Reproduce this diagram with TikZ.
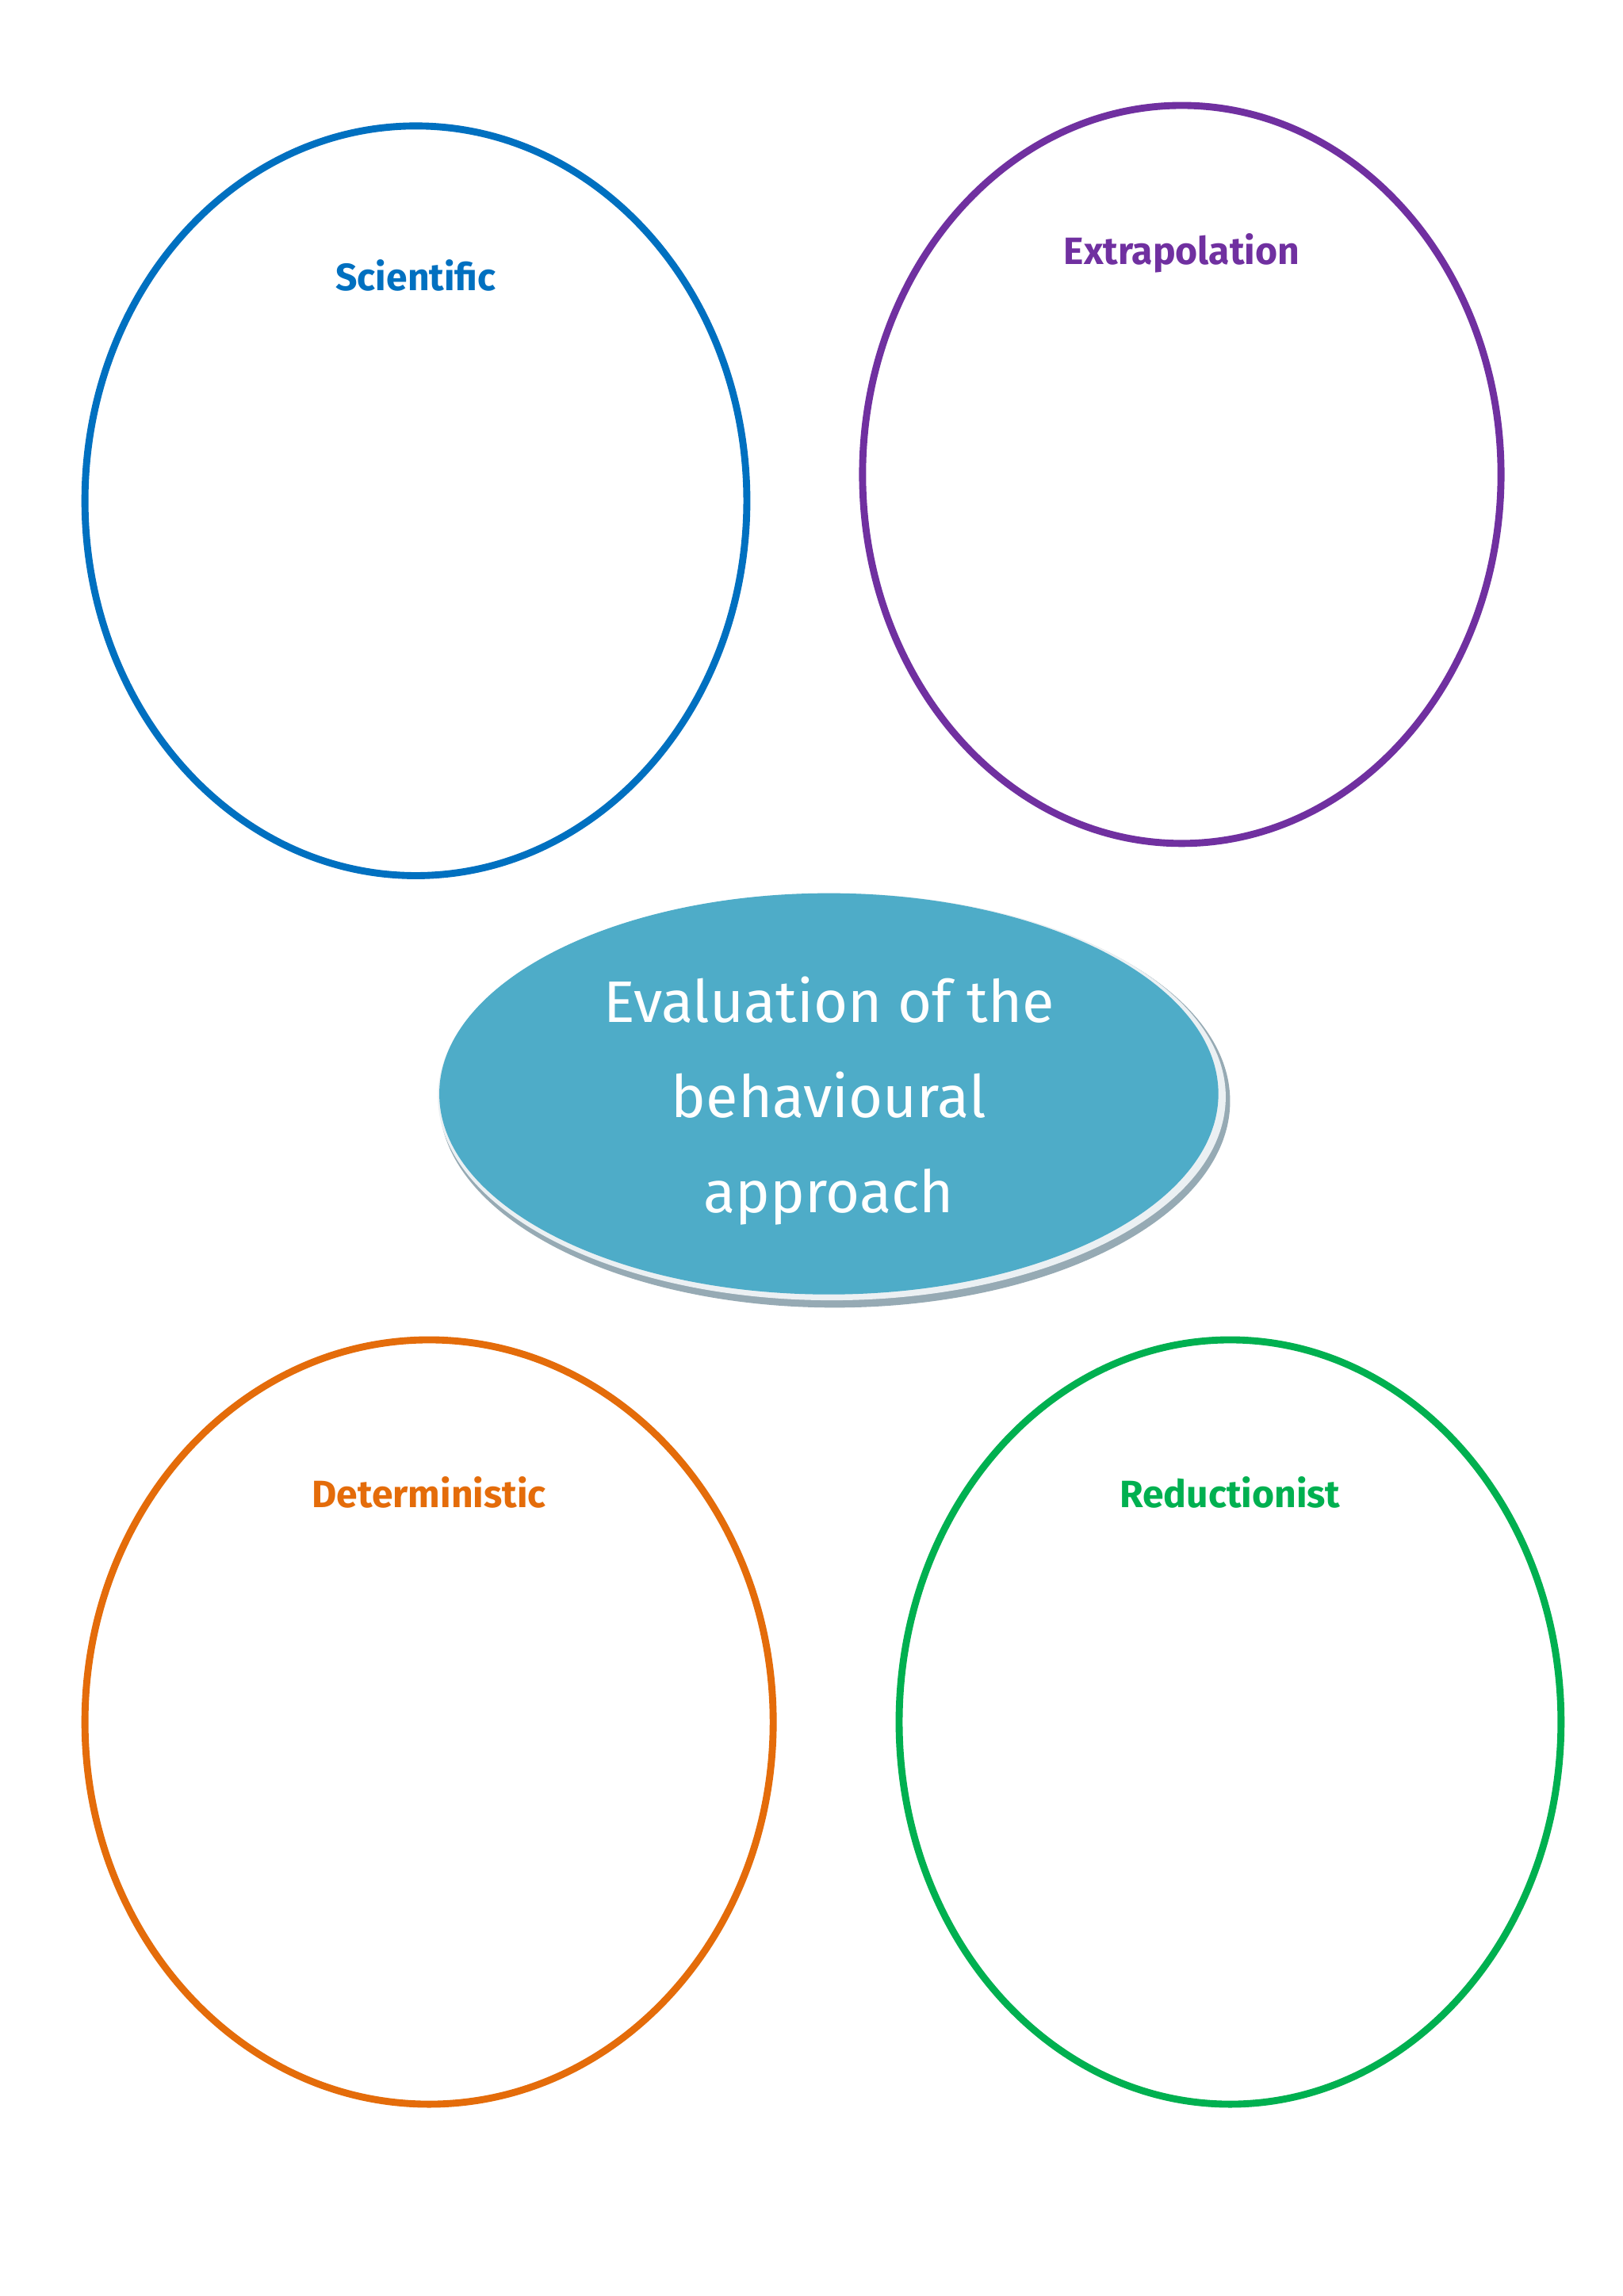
\documentclass[tikz,border=0pt]{standalone}
\usepackage{fontspec}
\setmainfont{Fira Sans}
\begin{document}
\begin{tikzpicture}[x=0.5pt,y=-0.5pt,
  ring/.style={line width=2.4pt},
  lab/.style={font=\bfseries\fontsize{13}{15}\selectfont}]
\useasboundingbox (0,0) rectangle (1108,1568);
\fill[white] (0,0) rectangle (1108,1568);
% rings
\draw[ring,color={rgb,255:red,0;green,112;blue,192}] (284,342) ellipse [x radius=226,y radius=256];
\draw[ring,color={rgb,255:red,112;green,48;blue,160}] (807,324) ellipse [x radius=218,y radius=252];
\draw[ring,color={rgb,255:red,228;green,108;blue,10}] (293,1176) ellipse [x radius=235,y radius=261];
\draw[ring,color={rgb,255:red,0;green,176;blue,80}] (840,1176) ellipse [x radius=226,y radius=261];
\node[lab,text={rgb,255:red,0;green,112;blue,192}] (s) at (284,188) {Scientific};
\node[lab,text={rgb,255:red,112;green,48;blue,160}] (e) at (807,173) {Extrapolation};
\node[lab,text={rgb,255:red,228;green,108;blue,10}] (d) at (293,1019) {Deterministic};
\node[lab,text={rgb,255:red,0;green,176;blue,80}] (r) at (840,1019) {Reductionist};
% central
\fill[color={rgb,255:red,150;green,170;blue,180}] (570,752) ellipse [x radius=270,y radius=141];
\fill[color={rgb,255:red,235;green,240;blue,243}] (568,749) ellipse [x radius=269,y radius=139];
\fill[color={rgb,255:red,78;green,172;blue,200}] (566,747) ellipse [x radius=266,y radius=137];
\node[text=white,align=center,font=\fontsize{20}{32.5}\selectfont] (c) at (566,752)
  {Evaluation of the\\behavioural\\approach};
\end{tikzpicture}
\end{document}
